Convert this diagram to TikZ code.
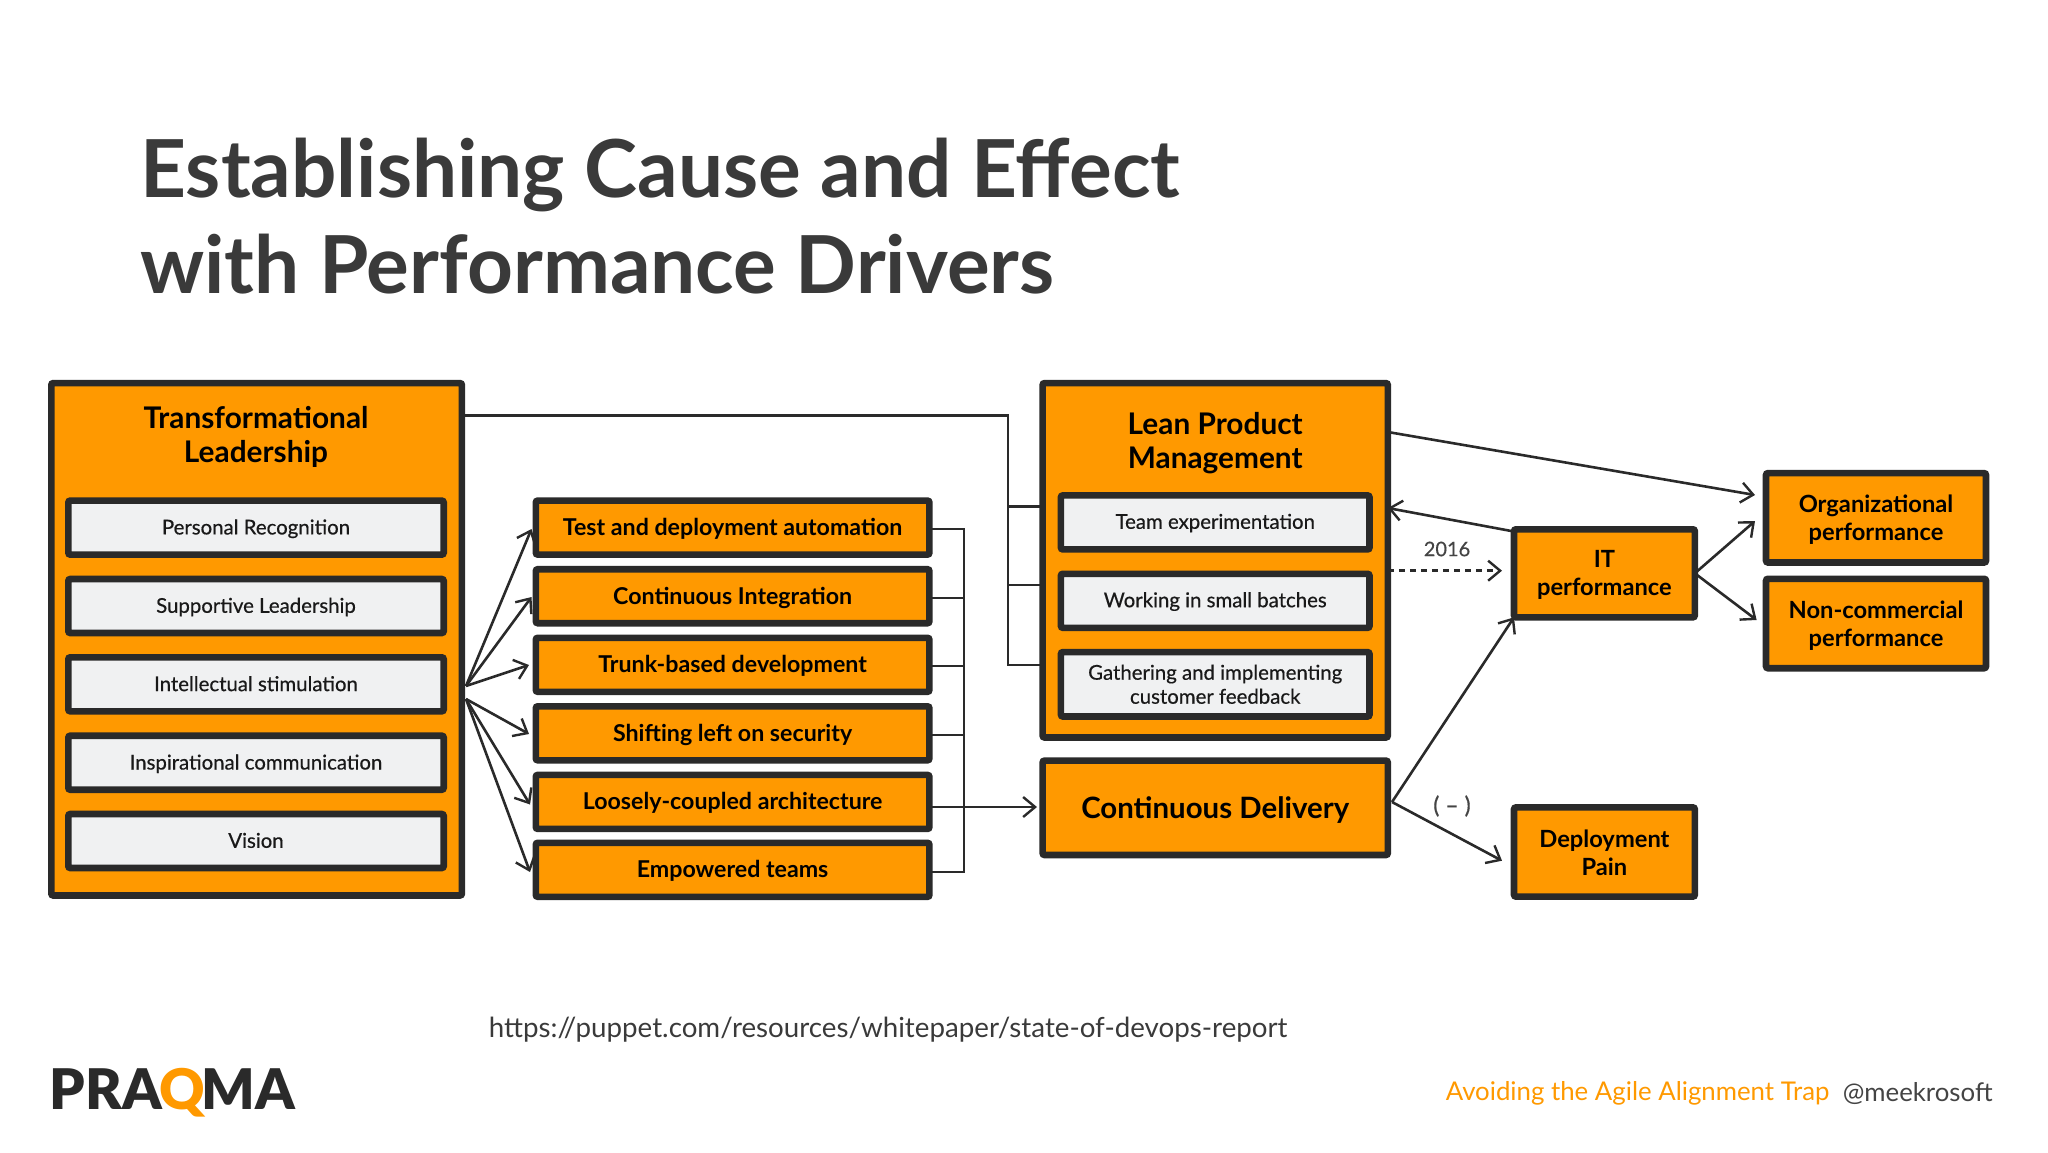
\documentclass[tikz,border=0pt]{standalone}
\usepackage{fontspec}
\usetikzlibrary{arrows.meta}
\setmainfont{Lato}
\newfontfamily\medfont[FakeBold=0.5]{Lato}
\newfontfamily\blackfont{Lato Black}
\definecolor{orangeX}{HTML}{FF9900}
\definecolor{inkX}{HTML}{2A2A2A}
\definecolor{subX}{HTML}{F0F1F2}
\definecolor{titleX}{HTML}{3A3A3A}
\definecolor{greyX}{HTML}{444444}
% text block pushed down inside its box by half of #1
\newcommand{\lbl}[2]{\raisebox{0pt}[\dimexpr\height+#1\relax][\depth]{\begin{tabular}{@{}c@{}}#2\end{tabular}}}
\tikzset{
  obox/.style={draw=inkX,fill=orangeX,line width=3.3pt,rounded corners=1pt,inner sep=0pt,outer sep=0pt,align=center,text=black},
  sbox/.style={draw=inkX,fill=subX,line width=3.3pt,rounded corners=1pt,inner sep=0pt,outer sep=0pt,align=center,text=black!90,font=\medfont\fontsize{10.2}{12}\selectfont},
  midlab/.style={font=\bfseries\fontsize{11.6}{14}\selectfont},
  biglab/.style={font=\bfseries\fontsize{14.9}{17}\selectfont,align=center,text=black,inner sep=0pt},
  endlab/.style={font=\bfseries\fontsize{11.85}{14}\selectfont},
  conn/.style={draw=inkX,line width=1.3pt},
  arr/.style={conn,-{Straight Barb[length=6pt,width=10pt,line width=1.2pt]}}
}
\begin{document}
\begin{tikzpicture}[x=0.5pt,y=-0.5pt]
\useasboundingbox (0,0) rectangle (2048,1152);
% heading
\node[anchor=west,inner sep=0pt,text=titleX,align=left,font=\bfseries\fontsize{40}{48}\selectfont] (heading) at (140,216) {Establishing Cause and Effect\\with Performance Drivers};
% left group
\node[obox,minimum width=205.3pt,minimum height=256.2pt] (tl) at (256.6,639.3) {};
\node[biglab] (tlh) at (256,436.5) {Transformational\\Leadership};
\foreach \n/\y/\t in {a/527.6/Personal Recognition,b/606/Supportive Leadership,c/684.3/Intellectual stimulation,d/762.7/Inspirational communication,e/841/Vision}
  \node[sbox,minimum width=187.7pt,minimum height=27pt] (tl\n) at (256,\y) {\lbl{2pt}{\t}};
% middle group
\foreach \n/\y/\t in {a/527.6/Test and deployment automation,b/596.2/Continuous Integration,c/664.8/Trunk-based development,d/733.3/Shifting left on security,e/801.9/Loosely-coupled architecture,f/869.8/Empowered teams}
  \node[obox,midlab,minimum width=196.8pt,minimum height=27pt] (m\n) at (732.6,\y) {\lbl{2.2pt}{\t}};
% lean
\node[obox,minimum width=172.6pt,minimum height=177.2pt] (lean) at (1215.2,560.3) {};
\node[biglab] (leanh) at (1215.2,443) {Lean Product\\Management};
\node[sbox,minimum width=154.3pt,minimum height=27pt] (la) at (1215.2,522.4) {\lbl{1.6pt}{Team experimentation}};
\node[sbox,minimum width=154.3pt,minimum height=27pt] (lb) at (1215.2,600.8) {\lbl{1.6pt}{Working in small batches}};
\node[sbox,minimum width=154.3pt,minimum height=32.2pt] (lc) at (1215.2,684.3) {\lbl{2.6pt}{Gathering and implementing\\customer feedback}};
\node[obox,font=\bfseries\fontsize{14.7}{18}\selectfont,minimum width=172.6pt,minimum height=47.2pt] (cd) at (1215.2,807.8) {\lbl{3pt}{Continuous Delivery}};
% right
\node[obox,endlab,minimum width=90.4pt,minimum height=44pt] (it) at (1604.4,573.3) {\lbl{2.4pt}{IT\\performance}};
\node[obox,endlab,minimum width=90.4pt,minimum height=44.6pt] (dp) at (1604.4,852) {\lbl{3.6pt}{Deployment\\Pain}};
\node[obox,endlab,minimum width=110pt,minimum height=44.7pt] (org) at (1876,517.8) {\lbl{3.2pt}{Organizational\\performance}};
\node[obox,endlab,minimum width=110pt,minimum height=44.7pt] (non) at (1876,623.5) {\lbl{3.2pt}{Non-commercial\\performance}};
% fan
\coordinate (fanhi) at (466,686);
\coordinate (fanlo) at (466,699);
\draw[arr] (fanhi) -- (531.5,529);
\draw[arr] (fanhi) -- (531.5,597);
\draw[arr] (fanhi) -- (529,665);
\draw[arr] (fanlo) -- (529,734);
\draw[arr] (fanlo) -- (530,804.5);
\draw[arr] (fanlo) -- (530,872);
% top feed
\draw[conn] (tl.east |- 0,415.3) -| (1008,664.8) -- (lean.west |- 0,664.8);
\draw[conn] (1008,506.7) -- (lean.west |- 0,506.7);
\draw[conn] (1008,585) -- (lean.west |- 0,585);
% bus
\draw[conn] (ma.east |- 0,529) -| (963.8,872) -- (mf.east |- 0,872);
\draw[conn] (mb.east |- 0,598) -- (963.8,598);
\draw[conn] (mc.east |- 0,666) -- (963.8,666);
\draw[conn] (md.east |- 0,735) -- (963.8,735);
\draw[arr] (me.east |- 0,807) -- (1037,807);
% right arrows
\draw[arr] (lean.east |- 0,432) -- (1755,495);
\draw[arr] (it.west |- 0,531.5) -- (lean.east |- 0,508);
\draw[arr,line width=1.3pt,dash pattern=on 3pt off 2.5pt] (lean.east |- 0,570.7) -- (1502,570.7);
\node[inner sep=0pt,text=greyX,font=\medfont\fontsize{10}{12}\selectfont] (y16) at (1447,549) {2016};
\draw[arr] (1392,802) -- (it.south west);
\draw[arr] (1392,802) -- (1502,860.7);
\node[inner sep=0pt,text=greyX,font=\medfont\fontsize{11.5}{13}\selectfont] (neg) at (1452,806) {( – )};
\draw[arr] (it.east) -- (1755,521);
\draw[arr] (it.east) -- (1756.6,620);
% footer
\node[anchor=west,inner sep=0pt,text=titleX,font=\fontsize{13.86}{17}\selectfont] (url) at (488.4,1029.5) {https://puppet.com/resources/whitepaper/state-of-devops-report};
\node[anchor=west,inner sep=0pt,text=inkX,font=\blackfont\fontsize{28}{30}\selectfont] (logo) at (49.5,1093) {PRA\kern-1.5pt{\color{orangeX}Q}\kern-1.5ptMA};
\node[anchor=east,inner sep=0pt,text=orangeX,font=\fontsize{12.9}{16}\selectfont] (foot) at (1830,1093.5) {Avoiding the Agile Alignment Trap};
\node[anchor=east,inner sep=0pt,text=greyX,font=\fontsize{12.9}{16}\selectfont] (handle) at (1993,1093.5) {@meekrosoft};
\end{tikzpicture}
\end{document}
